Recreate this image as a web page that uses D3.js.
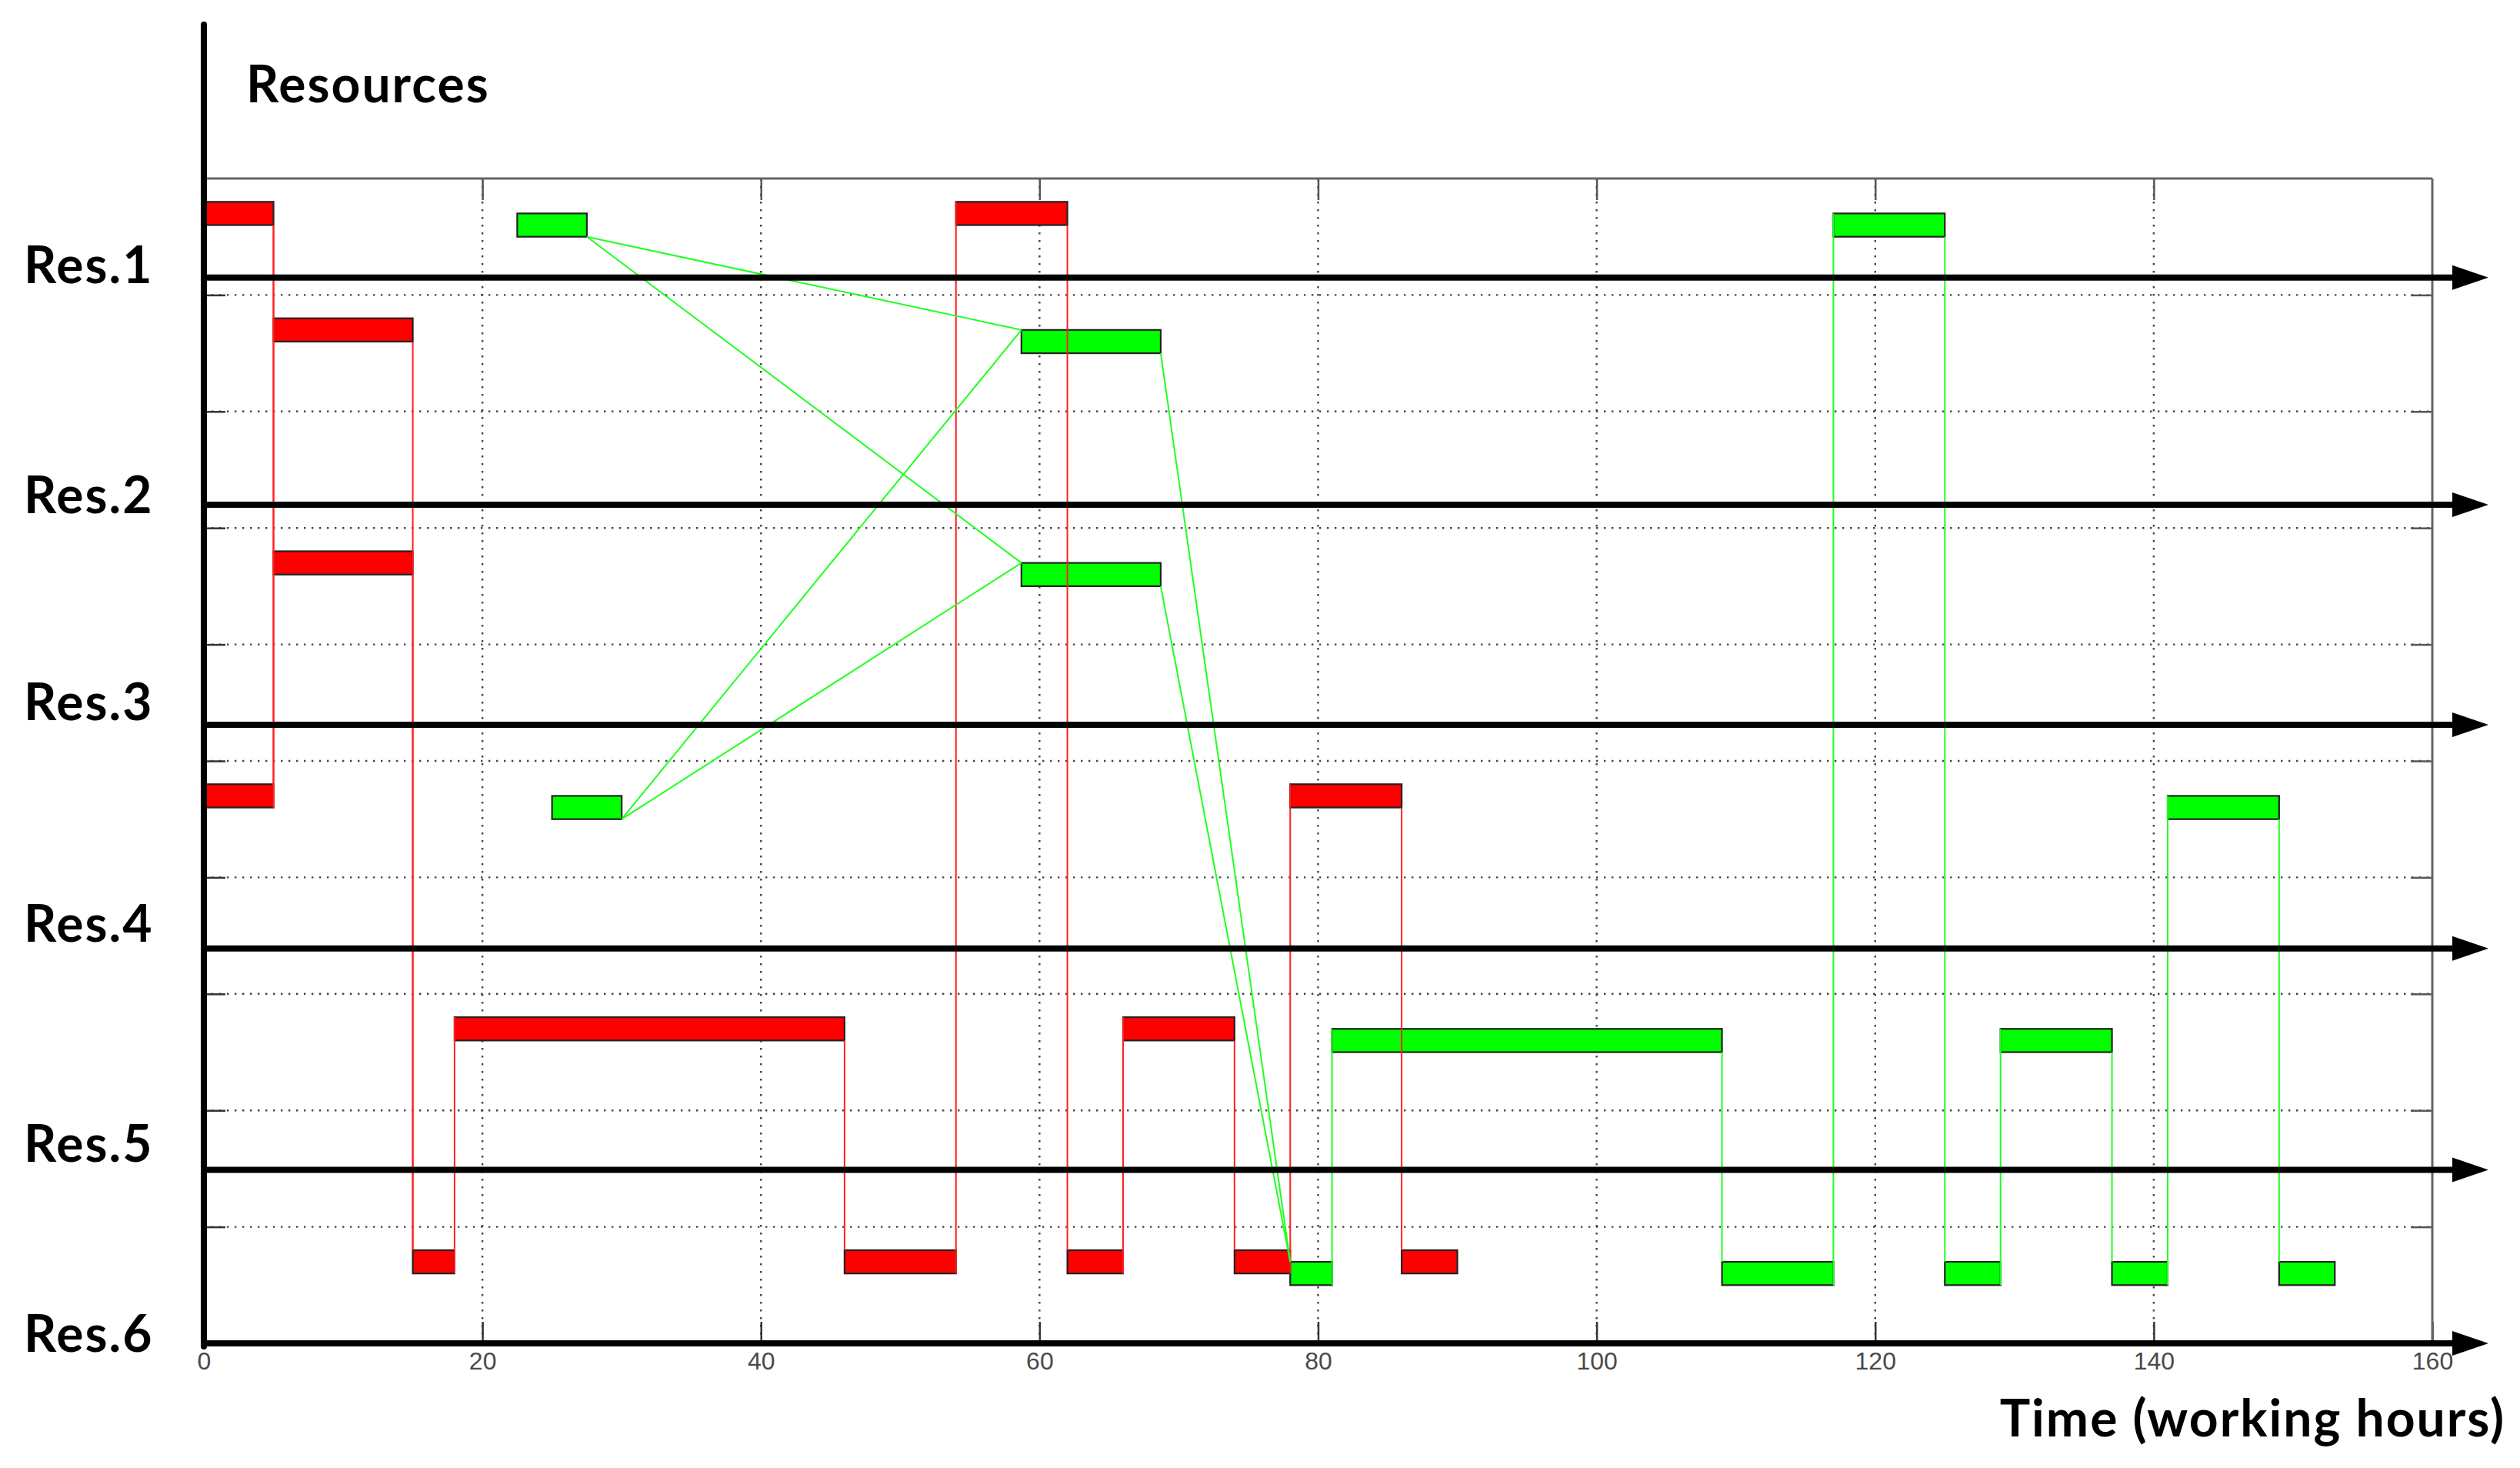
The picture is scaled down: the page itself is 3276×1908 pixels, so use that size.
<!DOCTYPE html>
<html>
<head>
<meta charset="utf-8">
<script src="https://cdn.jsdelivr.net/npm/d3@7"></script>
<style>
  html, body { margin: 0; padding: 0; background: #fff; }
  svg { display: block; }
</style>
</head>
<body>
<script>
// ---------------- DATA ----------------
const resources = ["Res.1", "Res.2", "Res.3", "Res.4", "Res.5", "Res.6"];
// level (in y-axis units) of each resource's arrow line
const resAxisLevel = [9.15, 7.20, 5.31, 3.39, 1.49, 0];
// level (in y-axis units) of each resource label baseline
const resLabelLevel = [9.10, 7.13, 5.35, 3.45, 1.56, -0.07];
// base level of the bars of each resource (y-axis units)
const barBase = [9.5, 8.5, 6.5, 4.5, 2.5, 0.5];
const xTicks = [0, 20, 40, 60, 80, 100, 120, 140, 160];
const yTicks = [0, 1, 2, 3, 4, 5, 6, 7, 8, 9, 10];

// operations: [resource index, start hour, end hour]
const redJob = [
  [0, 0, 5], [3, 0, 5], [1, 5, 15], [2, 5, 15], [5, 15, 18], [4, 18, 46],
  [5, 46, 54], [0, 54, 62], [5, 62, 66], [4, 66, 74], [5, 74, 78], [3, 78, 86], [5, 86, 90]
];
const greenJob = [
  [0, 22.5, 27.5], [3, 25, 30], [1, 58.7, 68.7], [2, 58.7, 68.7], [5, 78, 81], [4, 81, 109],
  [5, 109, 117], [0, 117, 125], [5, 125, 129], [4, 129, 137], [5, 137, 141], [3, 141, 149], [5, 149, 153]
];
// precedence links between operations (indices into the job arrays)
const jobLinks = [
  [0, 2], [0, 3], [1, 2], [1, 3], [2, 4], [3, 4], [4, 5], [5, 6],
  [6, 7], [7, 8], [8, 9], [9, 10], [10, 11], [11, 12]
];
// vertical offset of each job's bar above the resource base, bar thickness (y units)
const jobOffset = { red: 0.1, green: 0.0 };
const barThick = 0.2;

// ---------------- LAYOUT ----------------
const W = 3276, H = 1908;
const x = d3.scaleLinear().domain([0, 160]).range([265, 3162]);
const y = d3.scaleLinear().domain([0, 10]).range([1746, 232]);

const svg = d3.select("body").append("svg")
  .attr("width", W).attr("height", H)
  .attr("viewBox", `0 0 ${W} ${H}`);
svg.append("rect").attr("width", W).attr("height", H).attr("fill", "#fff");

// grid
const grid = svg.append("g");
grid.selectAll("line.vg").data(xTicks.filter(d => d > 0 && d < 160)).join("line")
  .attr("x1", d => x(d)).attr("x2", d => x(d))
  .attr("y1", y(10)).attr("y2", y(0))
  .attr("stroke", "#444").attr("stroke-width", 2.4).attr("stroke-dasharray", "2.4,7.6");
grid.selectAll("line.hg").data(yTicks.filter(d => d > 0 && d < 10)).join("line")
  .attr("x1", x(0)).attr("x2", x(160))
  .attr("y1", d => y(d)).attr("y2", d => y(d))
  .attr("stroke", "#444").attr("stroke-width", 2.4).attr("stroke-dasharray", "2.4,7.6");

// axes ticks (inward)
const TL = 28;
function styleAxis(g, color) {
  g.select(".domain").remove();
  g.selectAll(".tick line").attr("stroke", color).attr("stroke-width", 2.5);
}
const axB = svg.append("g").attr("transform", `translate(0,${y(0)})`)
  .call(d3.axisBottom(x).tickValues(xTicks).tickSizeInner(-TL).tickSizeOuter(0).tickPadding(11));
styleAxis(axB, "#333");
axB.selectAll(".tick text")
  .attr("font-family", "'Liberation Sans', Arial, sans-serif")
  .attr("font-size", 32).attr("fill", "#4a4a4a");

const axT = svg.append("g").attr("transform", `translate(0,${y(10)})`)
  .call(d3.axisTop(x).tickValues(xTicks.filter(d => d > 0 && d < 160)).tickSizeInner(-TL).tickSizeOuter(0).tickFormat(""));
styleAxis(axT, "#555");

const axL = svg.append("g").attr("transform", `translate(${x(0)},0)`)
  .call(d3.axisLeft(y).tickValues(yTicks.filter(d => d > 0 && d < 10)).tickSizeInner(-TL).tickSizeOuter(0).tickFormat(""));
styleAxis(axL, "#333");

const axR = svg.append("g").attr("transform", `translate(${x(160)},0)`)
  .call(d3.axisRight(y).tickValues(yTicks.filter(d => d > 0 && d < 10)).tickSizeInner(-TL).tickSizeOuter(0).tickFormat(""));
styleAxis(axR, "#555");

// box top & right (gray)
svg.append("line").attr("x1", x(0)).attr("x2", x(160)).attr("y1", y(10)).attr("y2", y(10))
  .attr("stroke", "#666").attr("stroke-width", 3);
svg.append("line").attr("x1", x(160)).attr("x2", x(160)).attr("y1", y(10)).attr("y2", y(0))
  .attr("stroke", "#666").attr("stroke-width", 3);

// bars
function drawBars(job, offset, color) {
  svg.append("g").selectAll("rect").data(job).join("rect")
    .attr("x", d => x(d[1]))
    .attr("width", d => x(d[2]) - x(d[1]))
    .attr("y", d => y(barBase[d[0]] + offset + barThick))
    .attr("height", d => y(barBase[d[0]] + offset) - y(barBase[d[0]] + offset + barThick))
    .attr("fill", color).attr("stroke", "#222").attr("stroke-width", 2.2);
}
drawBars(redJob, jobOffset.red, "#ff0000");
drawBars(greenJob, jobOffset.green, "#00ff00");

// precedence links: bottom-right of predecessor to top-left of successor
function drawLinks(job, offset, color) {
  svg.append("g").selectAll("line").data(jobLinks).join("line")
    .attr("x1", d => x(job[d[0]][2]))
    .attr("y1", d => y(barBase[job[d[0]][0]] + offset))
    .attr("x2", d => x(job[d[1]][1]))
    .attr("y2", d => y(barBase[job[d[1]][0]] + offset + barThick))
    .attr("stroke", color).attr("stroke-width", 2);
}
drawLinks(redJob, jobOffset.red, "#ff2020");
drawLinks(greenJob, jobOffset.green, "#20ff20");

// resource arrows
const tipX = x(160) + 73, headBase = x(160) + 26, headHalf = 16;
const arrows = svg.append("g");
arrows.selectAll("line").data(resAxisLevel).join("line")
  .attr("x1", x(0)).attr("x2", headBase + 2)
  .attr("y1", d => y(d)).attr("y2", d => y(d))
  .attr("stroke", "#000").attr("stroke-width", 8);
arrows.selectAll("path").data(resAxisLevel).join("path")
  .attr("d", d => `M${headBase},${y(d) - headHalf} L${tipX},${y(d)} L${headBase},${y(d) + headHalf} Z`)
  .attr("fill", "#000");

// vertical axis
svg.append("line").attr("x1", x(0)).attr("x2", x(0)).attr("y1", 32).attr("y2", y(0) + 4)
  .attr("stroke", "#000").attr("stroke-width", 8).attr("stroke-linecap", "round");

// labels
const fontBold = "Lato, 'Open Sans', sans-serif";
function boldText(sel) {
  return sel.attr("font-family", fontBold).attr("font-weight", 700).attr("font-size", 66)
    .attr("letter-spacing", 2).attr("fill", "#000");
}
svg.append("g").selectAll("text").data(resources).join("text")
  .attr("x", 31).attr("y", (d, i) => y(resLabelLevel[i]))
  .call(boldText).text(d => d);

svg.append("text").attr("x", 320).attr("y", 133)
  .call(boldText).text("Resources");

svg.append("text").attr("x", 3257).attr("y", 1867).attr("text-anchor", "end")
  .call(boldText).text("Time (working hours)");
</script>
</body>
</html>
